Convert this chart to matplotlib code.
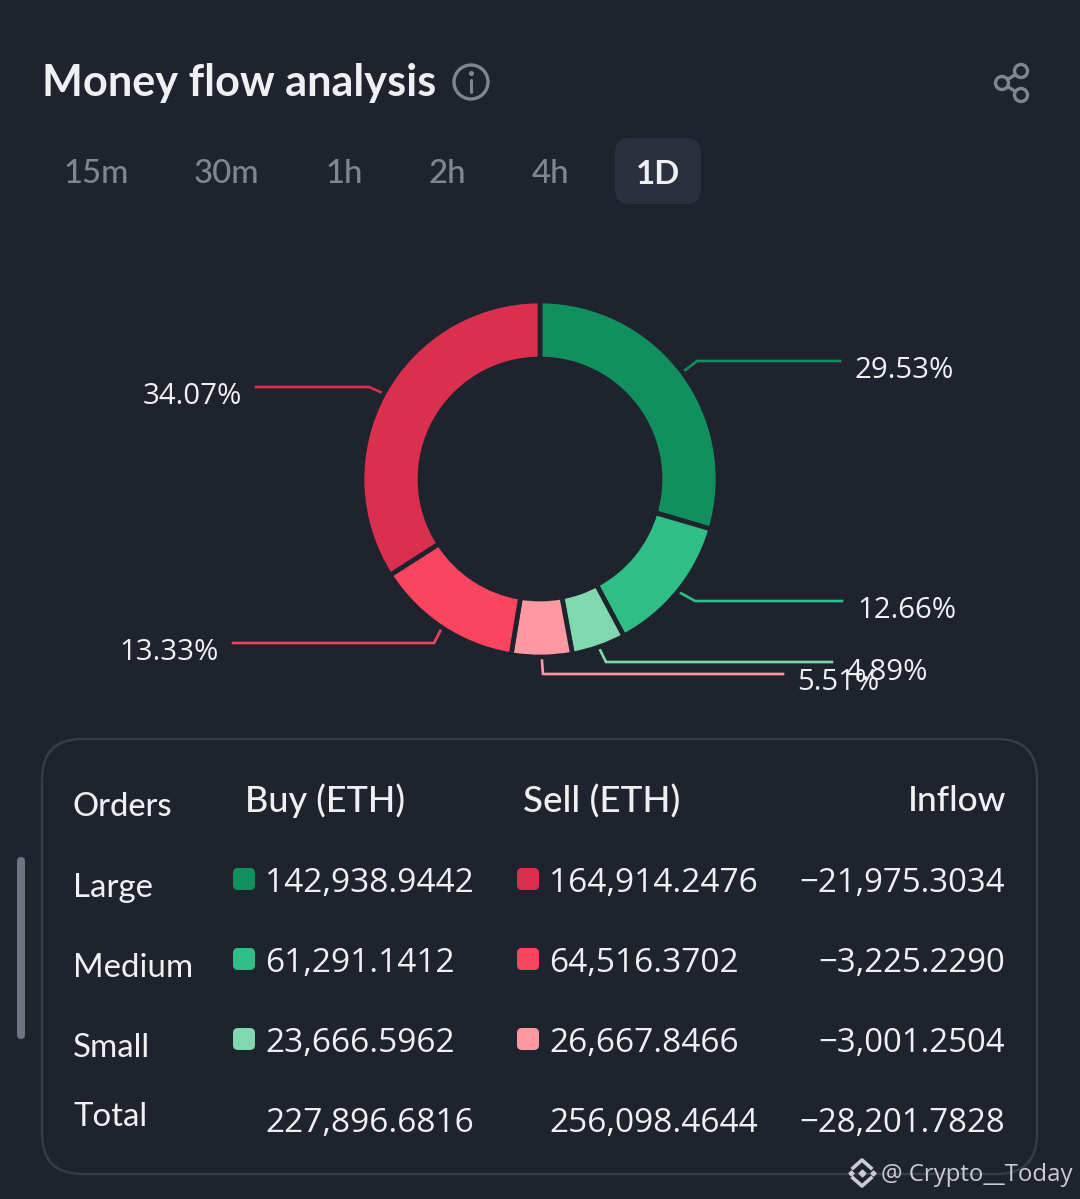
"""Money flow analysis card: donut of order share plus the buy/sell table."""
import matplotlib
matplotlib.use("Agg")
import matplotlib.pyplot as plt
from matplotlib.patches import Circle, FancyBboxPatch
import numpy as np

# data
shares = [29.53, 12.66, 4.89, 5.51, 13.33, 34.07]
share_labels = ["29.53%", "12.66%", "4.89%", "5.51%", "13.33%", "34.07%"]
slice_colors = ["#11905F", "#2FBF86", "#7FD8AE", "#FF98A1", "#F9455F", "#DB2F50"]
intervals = ["15m", "30m", "1h", "2h", "4h", "1D"]
rows = ["Large", "Medium", "Small", "Total"]
buy = ["142,938.9442", "61,291.1412", "23,666.5962", "227,896.6816"]
sell = ["164,914.2476", "64,516.3702", "26,667.8466", "256,098.4644"]
inflow = ["\u221221,975.3034", "\u22123,225.2290", "\u22123,001.2504", "\u221228,201.7828"]

BG = "#1E232D"
WHITE = "#EEF0F3"
GREY = "#80858F"
W, H = 1080, 1199
BODY = ["Open Sans", "DejaVu Sans"]
HEAD = ["Lato", "DejaVu Sans"]


def px(size):
    """Font size in points for a size given in image pixels."""
    return size * 0.72


fig = plt.figure(figsize=(W / 100, H / 100), dpi=100, facecolor=BG)
ax = fig.add_axes([0, 0, 1, 1])
ax.set_xlim(0, W)
ax.set_ylim(H, 0)
ax.axis("off")


def rounded(x0, y0, x1, y1, r, **kw):
    ax.add_patch(FancyBboxPatch((x0 + r, y0 + r), x1 - x0 - 2 * r, y1 - y0 - 2 * r,
                                boxstyle=f"round,pad={r},rounding_size={r}", **kw))


# header
ax.text(42, 83, "Money flow analysis", color=WHITE, fontsize=px(43.3), family=HEAD,
        weight="bold", va="center", ha="left")
ax.add_patch(Circle((471, 82), 17, fc="none", ec=GREY, lw=2.4))
ax.plot([471, 471], [80, 92], color=GREY, lw=2.2, solid_capstyle="round")
ax.plot([471], [73], "o", color=GREY, ms=2.6)

# share icon
nodes = [(1021, 71), (1002, 83), (1021, 95)]
ax.plot([n[0] for n in nodes], [n[1] for n in nodes], color=GREY, lw=2.4, zorder=2)
for n in nodes:
    ax.add_patch(Circle(n, 6.5, fc=BG, ec=GREY, lw=2.4, zorder=3))

# interval tabs
rounded(615, 138, 701, 204, 15, fc="#2B313C", ec="none")
tab_x = [96, 226, 344, 447, 551, 658]
for name, x in zip(intervals, tab_x):
    ax.text(x, 174, name, color=WHITE if name == "1D" else GREY, fontsize=px(33),
            family=HEAD, weight="bold" if name == "1D" else "medium", ha="center", va="center")

# donut
cx, cy, R, r_in = 540, 479, 178, 120
pie_ax = fig.add_axes([(cx - R) / W, 1 - (cy + R) / H, 2 * R / W, 2 * R / H])
pie_ax.pie(shares, colors=slice_colors, startangle=90, counterclock=False, radius=1.0,
           wedgeprops=dict(width=1 - r_in / R, edgecolor=BG, linewidth=3.4))
pie_ax.set_xlim(-1, 1)
pie_ax.set_ylim(-1, 1)

# leader lines start just off the slice midpoint
elbow_x = [697, 695, 606, 543, 434, 369]
line_y = [361, 601, 662, 674, 643, 387]
line_end = [840, 842, 832, 783, 233, 256]
label_x = [854, 857, 845, 797, 219, 242]
label_y = [370, 610, 672, 683, 652, 397]
line_colors = ["#11905F", "#2FBF86", "#7FD8AE", "#FF98A1", "#E8475F", "#DB2F50"]
mids = 90 - (np.cumsum(shares) - np.array(shares) / 2) * 3.6
for i, label in enumerate(share_labels):
    a = np.radians(mids[i])
    sx = cx + (R + 2) * np.cos(a)
    sy = cy - (R + 2) * np.sin(a)
    ax.plot([sx, elbow_x[i], line_end[i]], [sy, line_y[i], line_y[i]],
            color=line_colors[i], lw=1.9, solid_joinstyle="miter")
    ha = "left" if line_end[i] > cx else "right"
    ax.text(label_x[i], label_y[i], label, color=WHITE, fontsize=px(29.4), family=BODY,
            ha=ha, va="center", zorder=5)

# table card
rounded(42, 739, 1037, 1174, 40, fc="none", ec="#363C48", lw=1.8)
rounded(17, 857, 25, 1039, 4, fc="#6F7580", ec="none")

ax.text(73, 807, "Orders", color=WHITE, fontsize=px(32.5), family=HEAD, weight="medium", va="center")
ax.text(245, 801, "Buy (ETH)", color=WHITE, fontsize=px(36), family=HEAD, weight="medium", va="center")
ax.text(523, 801, "Sell (ETH)", color=WHITE, fontsize=px(36.8), family=HEAD, weight="medium", va="center")
ax.text(1006, 801, "Inflow", color=WHITE, fontsize=px(35.3), family=HEAD, weight="medium",
        va="center", ha="right")

row_y = [884, 964, 1044, 1124]
name_y = [888, 968, 1048, 1117]
buy_right = 474
sell_right = 758
buy_swatches = slice_colors[:3]
sell_swatches = [slice_colors[5], slice_colors[4], slice_colors[3]]
for i, row in enumerate(rows):
    ax.text(73, name_y[i], row, color=WHITE, fontsize=px(33), family=HEAD, va="center")
    ax.text(buy_right if i in (0, 3) else 455, row_y[i], buy[i], color=WHITE, fontsize=px(33.5),
            family=BODY, ha="right", va="center")
    ax.text(sell_right if i in (0, 3) else 739, row_y[i], sell[i], color=WHITE, fontsize=px(33.5),
            family=BODY, ha="right", va="center")
    ax.text(1005, row_y[i], inflow[i], color=WHITE, fontsize=px(33), family=BODY,
            ha="right", va="center")
    if i < 3:
        y0 = row_y[i] - 16
        rounded(233, y0, 255, y0 + 22, 5, fc=buy_swatches[i], ec="none")
        rounded(517, y0, 539, y0 + 22, 5, fc=sell_swatches[i], ec="none")

# watermark
LOGO = "#C9CCD1"
ax.plot([862], [1173], "D", color=LOGO, ms=3.5)
ax.plot([851, 873], [1173, 1173], ls="none", marker="D", color=LOGO, ms=2.6)
ax.plot([853, 862, 871], [1168, 1160, 1168], color=LOGO, lw=2.6)
ax.plot([853, 862, 871], [1178, 1186, 1178], color=LOGO, lw=2.6)
ax.text(881, 1175, "@ Crypto__Today", color=LOGO, fontsize=px(24), family=BODY,
        ha="left", va="center", zorder=6)

fig.savefig("out.png", dpi=100, facecolor=BG)
